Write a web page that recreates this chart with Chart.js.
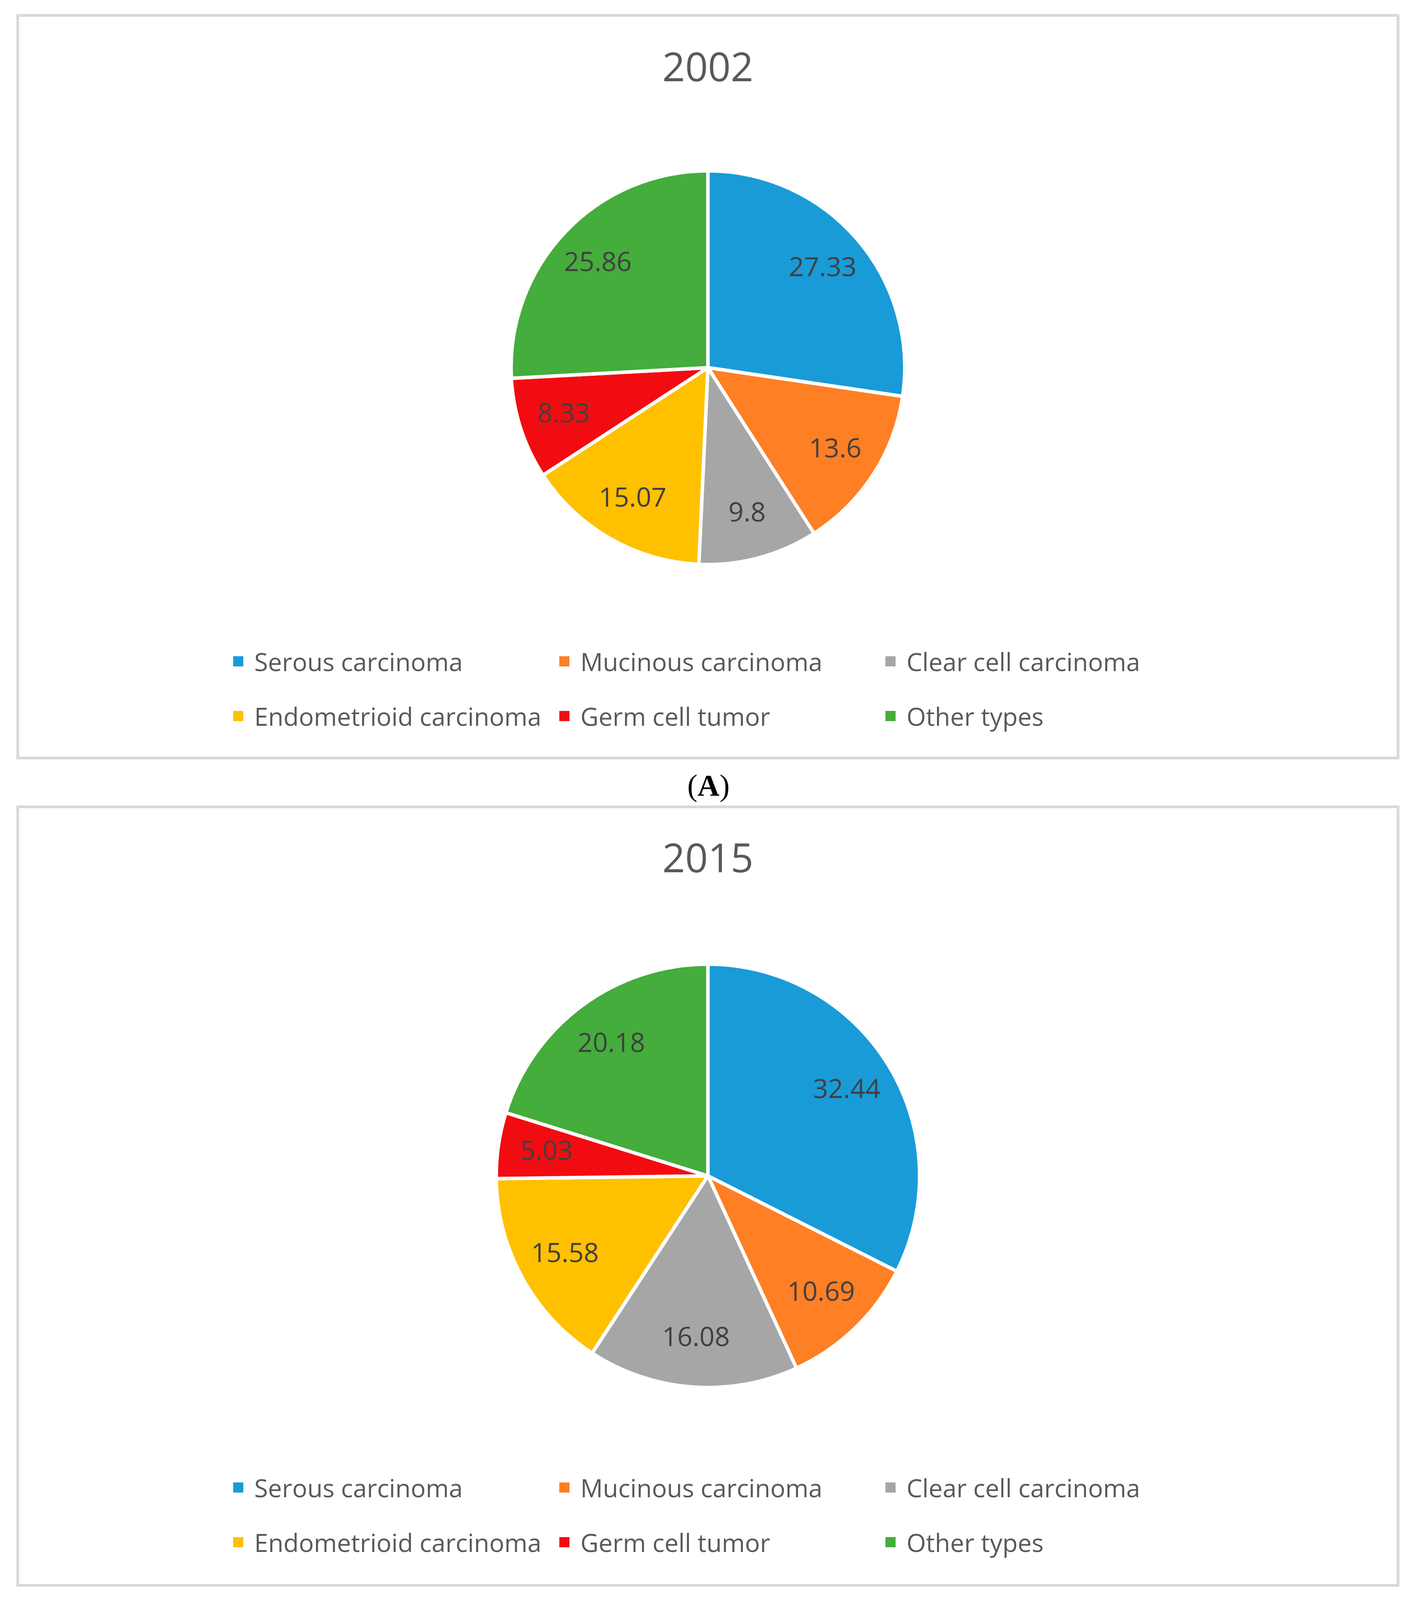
<!DOCTYPE html>
<html>
<head>
<meta charset="utf-8">
<script src="https://cdn.jsdelivr.net/npm/chart.js@4.4.1/dist/chart.umd.min.js"></script>
<style>
  html, body { margin: 0; padding: 0; background: #fff; }
  body { width: 3628px; height: 4201px; position: relative; overflow: hidden; font-family: "Open Sans", sans-serif; }
  .panel { position: absolute; left: 42px; width: 3541px; box-sizing: border-box; border: 7px solid #d9d9d9; background: #fff; }
  #panelA { top: 36px; height: 1908px; }
  #panelB { top: 2062px; height: 2000px; }
  .lienzo { position: absolute; left: 0; top: 0; width: 3527px; }
  .leyenda { position: absolute; left: 548px; display: grid; grid-template-columns: 835px 835px 835px; grid-auto-rows: 140px; }
  .item { display: flex; align-items: center; font-size: 64px; color: #595959; white-space: nowrap; }
  .item i { display: inline-block; width: 26px; height: 26px; margin-right: 28px; }
  .sub { position: absolute; left: 0; width: 3628px; text-align: center; font-family: "Liberation Serif", serif; font-size: 78px; line-height: 1; color: #000; }
</style>
</head>
<body>
<div class="panel" id="panelA">
  <div class="lienzo" style="height:1500px"><canvas id="pie2002"></canvas></div>
  <div class="leyenda" id="leyenda2002" style="top:1580px"></div>
</div>
<div class="sub" style="top:1972px">(<b>A</b>)</div>
<div class="panel" id="panelB">
  <div class="lienzo" style="height:1560px"><canvas id="pie2015"></canvas></div>
  <div class="leyenda" id="leyenda2015" style="top:1669px"></div>
</div>
<div class="sub" style="top:4086px">(<b>B</b>)</div>

<script>
const tipos = ['Serous carcinoma', 'Mucinous carcinoma', 'Clear cell carcinoma', 'Endometrioid carcinoma', 'Germ cell tumor', 'Other types'];
const valores2002 = [27.33, 13.6, 9.8, 15.07, 8.33, 25.86];
const valores2015 = [32.44, 10.69, 16.08, 15.58, 5.03, 20.18];
const colores = ['#199bd7', '#fe7f24', '#a6a6a6', '#ffc000', '#f20c11', '#44ad3b'];

// etiquetas dentro de cada porción, en el ángulo medio del arco
const etiquetas = {
  id: 'etiquetas',
  afterDatasetsDraw(chart) {
    const ctx = chart.ctx;
    const datos = chart.data.datasets[0].data;
    ctx.save();
    ctx.font = '68px "Open Sans"';
    ctx.fillStyle = '#404040';
    ctx.textAlign = 'center';
    ctx.textBaseline = 'middle';
    chart.getDatasetMeta(0).data.forEach((arco, i) => {
      const { x, y, startAngle, endAngle, outerRadius } = arco.getProps(['x', 'y', 'startAngle', 'endAngle', 'outerRadius'], true);
      const medio = (startAngle + endAngle) / 2;
      const r = outerRadius * 0.77;
      ctx.fillText(String(datos[i]), x + Math.cos(medio) * r, y + Math.sin(medio) * r);
    });
    ctx.restore();
  }
};

// leyenda en HTML, tres columnas como en Excel
const leyendaHtml = {
  id: 'leyendaHtml',
  afterUpdate(chart, args, opts) {
    const items = chart.options.plugins.legend.labels.generateLabels(chart);
    document.getElementById(opts.contenedor).innerHTML = items
      .map((it) => `<div class="item"><i style="background:${it.fillStyle}"></i>${it.text}</div>`)
      .join('');
  }
};

function crearPie(id, anio, valores, radio, padTitulo, padAbajo) {
  return new Chart(document.getElementById(id), {
    type: 'pie',
    data: {
      labels: tipos,
      datasets: [{ data: valores, backgroundColor: colores, borderColor: '#fff', borderWidth: 9 }]
    },
    options: {
      responsive: true,
      maintainAspectRatio: false,
      animation: false,
      radius: radio,
      layout: { padding: { bottom: padAbajo } },
      plugins: {
        legend: { display: false },
        tooltip: { enabled: false },
        title: {
          display: true,
          text: anio,
          color: '#595959',
          font: { family: '"Open Sans"', size: 102, weight: 'normal', lineHeight: 1.2 },
          padding: padTitulo
        },
        leyendaHtml: { contenedor: 'leyenda' + anio }
      }
    },
    plugins: [etiquetas, leyendaHtml]
  });
}

crearPie('pie2002', '2002', valores2002, 504, { top: 75, bottom: 201 }, 102);
crearPie('pie2015', '2015', valores2015, 542, { top: 74, bottom: 207 }, 81);
</script>
</body>
</html>
